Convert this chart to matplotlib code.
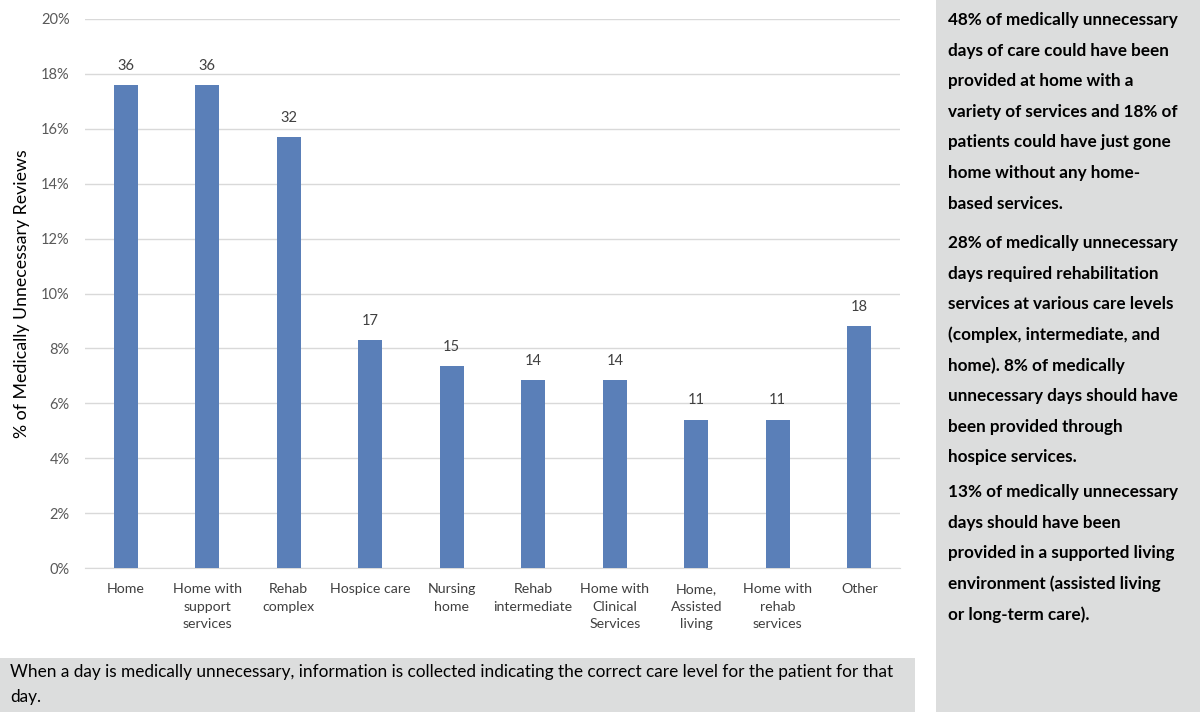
import matplotlib.pyplot as plt
from matplotlib.patches import Rectangle

# data
categories = ["Home", "Home with\nsupport\nservices", "Rehab\ncomplex", "Hospice care",
              "Nursing\nhome", "Rehab\nintermediate", "Home with\nClinical\nServices",
              "Home,\nAssisted\nliving", "Home with\nrehab\nservices", "Other"]
counts = [36, 36, 32, 17, 15, 14, 14, 11, 11, 18]
percents = [17.6, 17.6, 15.7, 8.3, 7.35, 6.85, 6.85, 5.4, 5.4, 8.8]
y_ticks = [0, 2, 4, 6, 8, 10, 12, 14, 16, 18, 20]

side_notes = [
    ["48% of medically unnecessary", "days of care could have been", "provided at home with a",
     "variety of services and 18% of", "patients could have just gone", "home without any home-",
     "based services."],
    ["28% of medically unnecessary", "days required rehabilitation", "services at various care levels",
     "(complex, intermediate, and", "home). 8% of medically", "unnecessary days should have",
     "been provided through", "hospice services."],
    ["13% of medically unnecessary", "days should have been", "provided in a supported living",
     "environment (assisted living", "or long-term care)."],
]
footnote = ["When a day is medically unnecessary, information is collected indicating the correct care level for the patient for that",
            "day."]

plt.rcParams['font.family'] = ['Lato', 'DejaVu Sans']
bar_color = "#5A7FB8"
txt = "#404040"
panel = "#DCDDDD"
W, H = 1200, 712

fig = plt.figure(figsize=(12, 7.12), dpi=100)
ax = fig.add_axes([85 / W, 144 / H, 815 / W, 549 / H])

x = list(range(len(categories)))
ax.bar(x, percents, width=0.3, color=bar_color, zorder=3)
for xi, p, c in zip(x, percents, counts):
    ax.text(xi, p + 0.45, str(c), ha="center", va="bottom", fontsize=10.5, color=txt)

ax.set_xlim(-0.5, len(categories) - 0.5)
ax.set_ylim(0, 20)
ax.set_yticks(y_ticks)
ax.set_yticklabels([f"{t}%" for t in y_ticks])
ax.set_xticks(x)
ax.set_xticklabels(categories, fontsize=10.2, color=txt, linespacing=1.55)
ax.tick_params(axis="y", labelsize=10.5, labelcolor="#595959", length=0, pad=11)
ax.tick_params(axis="x", length=0, pad=11)
ax.yaxis.grid(True, color="#D9D9D9", linewidth=1, zorder=0)
for s in ["top", "right", "left"]:
    ax.spines[s].set_visible(False)
ax.spines["bottom"].set_color("#D9D9D9")
ax.set_ylabel("% of Medically Unnecessary Reviews", fontsize=12.8, color="black")
ax.yaxis.set_label_coords(-55 / 815, 0.5)

# right panel
fig.patches.append(Rectangle((936 / W, 0), 1 - 936 / W, 1, transform=fig.transFigure,
                             facecolor=panel, edgecolor="none", zorder=0))
note_tops = [20, 243, 492]
line_step = 30.6
for top, lines in zip(note_tops, side_notes):
    for i, line in enumerate(lines):
        fig.text(948 / W, 1 - (top + i * line_step) / H, line, ha="left", va="center",
                 fontsize=12.3, fontweight="bold", color="black")

# footnote box
fig.patches.append(Rectangle((0, 0), 915 / W, 54 / H, transform=fig.transFigure,
                             facecolor=panel, edgecolor="none", zorder=0))
for i, line in enumerate(footnote):
    fig.text(10 / W, 1 - (672 + i * 25) / H, line, ha="left", va="center",
             fontsize=12.4, color="black")

fig.savefig("out.png", dpi=100)
